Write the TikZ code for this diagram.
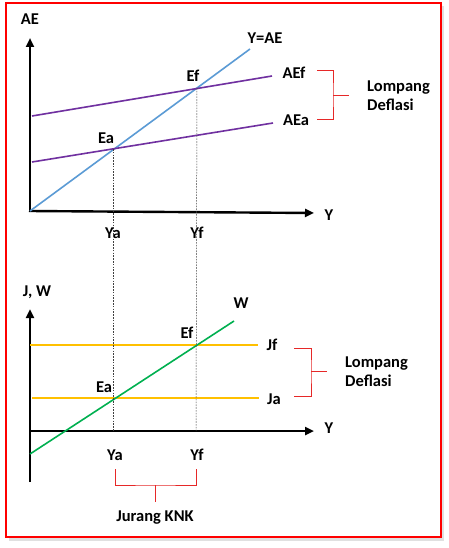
\documentclass[tikz,border=0pt]{standalone}
\usepackage{fontspec}
\setmainfont{Carlito}
\usetikzlibrary{positioning,arrows.meta,calc}

\definecolor{aepurple}{RGB}{112,48,160}
\definecolor{yaeblue}{RGB}{91,155,213}
\definecolor{wgreen}{RGB}{0,176,80}
\definecolor{jorange}{RGB}{255,192,0}
\definecolor{gapred}{RGB}{230,40,40}

\begin{document}
\begin{tikzpicture}[x=1pt, y=-1pt,
  axis/.style={line width=2.4pt, -{Triangle[length=9pt, width=8pt]}},
  lbl/.style={font=\fontsize{16.5}{19}\selectfont\bfseries, inner sep=1pt},
  note/.style={lbl, align=left, anchor=west},
  curve/.style={line width=1.6pt},
  guide/.style={line width=0.5pt, black!75, dash pattern=on 1.6pt off 1.2pt},
  gap/.style={draw=gapred, line width=0.9pt}
]
  \useasboundingbox (0,0) rectangle (448,548);

  % Frame with a light shadow
  \fill[black!12] (9,6) rectangle (444,541);
  \draw[red, line width=1.2pt, fill=white] (6,3) rectangle (441,537);

  % ---------- Upper panel: AE against Y ----------
  \coordinate (o1) at (30,211);
  \draw[axis] (o1) -- (30,38) coordinate (ae top);
  \draw[axis] ($(o1)+(-1,0)$) -- (314,213) coordinate (y1 end);
  \node[lbl] (ae)  at (30,19)  {AE};
  \node[lbl] (y1)  at (329,215) {Y};

  % Intersections
  \coordinate (ea1) at (113,149);
  \coordinate (ef1) at (197,88);

  % Lines
  \draw[curve, yaeblue]   (o1) -- (250,49) coordinate (yae end);
  \draw[curve, aepurple]  (32,116) -- (272,76) coordinate (aef end);
  \draw[curve, aepurple]  (32,162) -- (273,123) coordinate (aea end);
  \node[lbl] (yae) at (265,38) {Y=AE};
  \node[lbl] (aef) at (294,73) {AEf};
  \node[lbl] (aea) at (296,120) {AEa};
  \node[lbl] (ea1 lbl) at (106,138) {Ea};
  \node[lbl] (ef1 lbl) at (193,76) {Ef};
  \node[lbl] (ya1) at (113,233) {Ya};
  \node[lbl] (yf1) at (197,233) {Yf};

  % Deflation gap bracket (upper)
  \coordinate (gt1) at (317,70);
  \coordinate (gb1) at (317,119);
  \draw[gap] (gt1) -| (333,95) |- (gb1);
  \draw[gap] (333,95) -- (349,95) coordinate (gm1);
  \node[note] (gap1) at (366,96) {Lompang\\Deflasi};

  % ---------- Lower panel: J, W against Y ----------
  \coordinate (o2) at (30,431);
  \draw[axis] (30,482) -- (30,309) coordinate (jw top);
  \draw[axis] ($(o2)+(-1,0)$) -- (314,431) coordinate (y2 end);
  \node[lbl] (jw) at (37,292) {J, W};
  \node[lbl] (y2) at (329,428) {Y};

  % Intersections
  \coordinate (ea2) at (115,398);
  \coordinate (ef2) at (196,345);

  % Lines
  \draw[curve, jorange] (30,345) -- (258,345) coordinate (jf end);
  \draw[curve, jorange] (32,398) -- (259,398) coordinate (ja end);
  \draw[curve, wgreen]  (30,454) -- (234,321) coordinate (w end);
  \node[lbl] (w)  at (241,303) {W};
  \node[lbl] (jf) at (272,345) {Jf};
  \node[lbl] (ja) at (274,399) {Ja};
  \node[lbl] (ea2 lbl) at (104,387) {Ea};
  \node[lbl] (ef2 lbl) at (187,333) {Ef};
  \node[lbl] (ya2) at (115,455) {Ya};
  \node[lbl] (yf2) at (197,455) {Yf};

  % Deflation gap bracket (lower)
  \coordinate (gt2) at (294,348);
  \coordinate (gb2) at (294,396);
  \draw[gap] (gt2) -| (311,371) |- (gb2);
  \draw[gap] (311,371) -- (327,371) coordinate (gm2);
  \node[note] (gap2) at (344,372) {Lompang\\Deflasi};

  % Output gap bracket
  \coordinate (ka) at (115,469);
  \coordinate (kf) at (196,469);
  \draw[gap] (ka) |- (155,485) -| (kf);
  \draw[gap] (155,485) -- (155,502) coordinate (km);
  \node[lbl] (knk) at (155,518) {Jurang KNK};

  % Guides from equilibria down to the lower axis
  \draw[guide] (ea1) -- (113,431);
  \draw[guide] (ef1) -- (196,431);
\end{tikzpicture}
\end{document}
